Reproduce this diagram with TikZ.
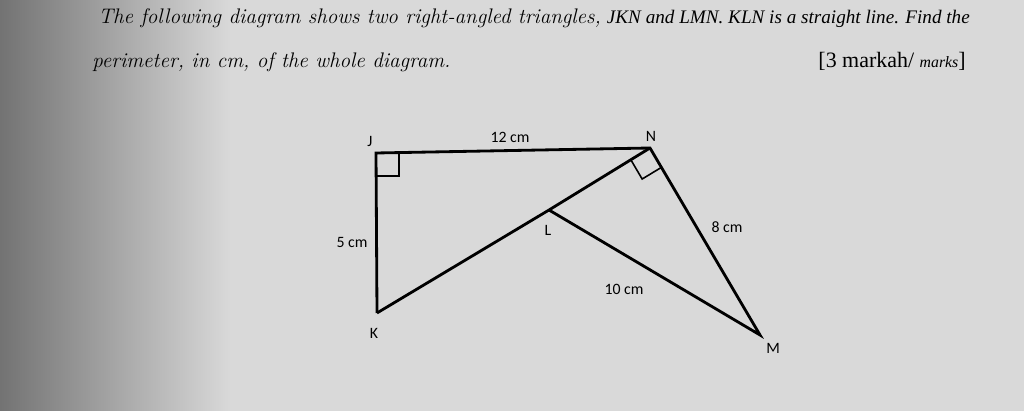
\documentclass[tikz,border=0pt]{standalone}
\usepackage{fontspec}
\newfontfamily\timesfont{Liberation Serif}
\newfontfamily\labelfont{Carlito}
\usetikzlibrary{calc}
\tikzset{
    edge/.style={line width=1.6pt, line join=miter},
    rightmark/.style={line width=0.9pt},
    vlabel/.style={font=\labelfont\fontsize{9}{10}\selectfont, inner sep=0pt},
    qtext/.style={anchor=base west, inner sep=0pt, font=\fontsize{12}{14}\selectfont\itshape}
}
\begin{document}
\begin{tikzpicture}[x=0.02cm, y=-0.02cm]
		% paper
		\useasboundingbox (0,0) rectangle (1024,411);
		\fill[gray!30!white] (0,0) rectangle (1024,411);
		\shade[left color=black!55!white, right color=gray!30!white] (0,0) rectangle (230,411);

		% question
		\node[qtext] (q1) at (98,24) {The following diagram shows two right-angled triangles,};
		\node[qtext, font=\timesfont\fontsize{10.9}{13}\selectfont\itshape, anchor=base west] (q2) at ([xshift=3pt]q1.base east) {JKN and LMN. KLN is a straight line. Find the};
		\node[qtext] (q3) at (92,68) {perimeter, in cm, of the whole diagram.};
		\node[qtext, font=\timesfont\fontsize{12.5}{14}\selectfont, anchor=base east] (marks) at (966,68) {[3 markah/ {\itshape\fontsize{9}{10}\selectfont marks}]};

		% vertices
		\coordinate (J) at (376,153);
		\coordinate (N) at (650,148);
		\coordinate (K) at (377,313);
		\coordinate (L) at (549,210);
		\coordinate (M) at (760,335);

		% triangles
		\draw[edge] (K) -- (J) -- (N) -- (M) -- (L);
		\draw[edge] (K) -- (L) -- (N);

		% right angles
		\draw[rightmark] ([yshift=-0.46cm]J) -- ++(23,0) -- ++(0,-23);
		\coordinate (n1) at ($(N)!0.45cm!(K)$);
		\coordinate (n2) at ($(N)!0.45cm!(M)$);
		\draw[rightmark] (n1) -- ($(n1)+(n2)-(N)$) -- (n2);

		% labels
		\node[vlabel] (lJ) at (370,141) {J};
		\node[vlabel] (lN) at (651,136) {N};
		\node[vlabel] (lK) at (374,333) {K};
		\node[vlabel] (lL) at (548,230) {L};
		\node[vlabel] (lM) at (773,348) {M};
		\node[vlabel] (a) at (510,137) {12 cm};
		\node[vlabel] (b) at (352,242) {5 cm};
		\node[vlabel] (c) at (727,227) {8 cm};
		\node[vlabel] (d) at (624,289) {10 cm};
\end{tikzpicture}
\end{document}
